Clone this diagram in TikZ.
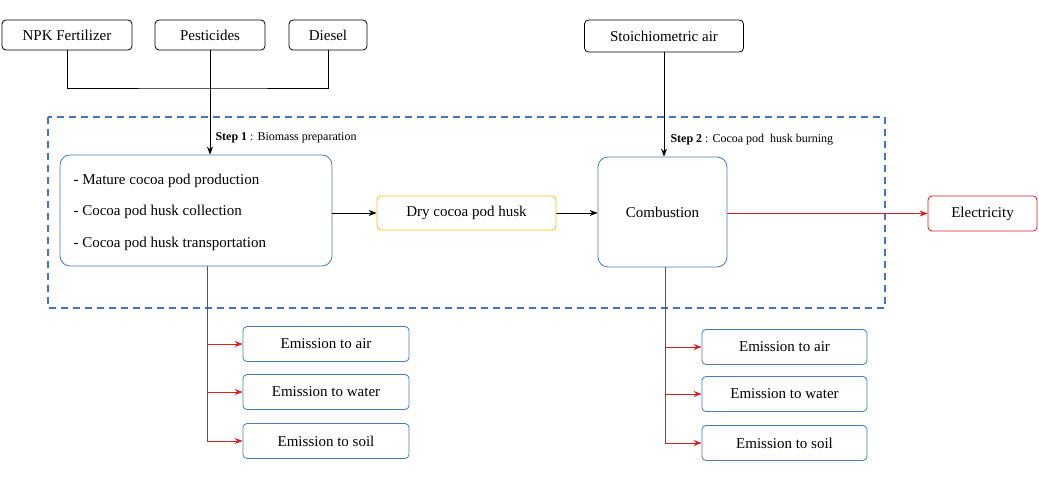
\documentclass[tikz,border=0pt]{standalone}
\usepackage{fontspec}
\setmainfont{Liberation Serif}
\usetikzlibrary{arrows.meta}
\definecolor{bbl}{RGB}{70,125,185}
\definecolor{dsh}{RGB}{68,114,196}
\definecolor{org}{RGB}{255,192,0}
\definecolor{rdc}{RGB}{225,30,30}
\begin{document}
\begin{tikzpicture}[x=1pt,y=-1pt,
 bx/.style={draw,rounded corners=4pt,line width=0.8pt,font=\fontsize{15}{17}\selectfont},
 blk/.style={bx,draw=black},
 blu/.style={bx,draw=bbl},
 ar/.style={-{Stealth[length=8pt,width=6pt]},line width=0.9pt},
 ra/.style={ar,color=rdc}]
\useasboundingbox (0,0) rectangle (1039,479);
\node[blk,minimum width=130,minimum height=30] (npk) at (67,35) {NPK Fertilizer};
\node[blk,minimum width=110,minimum height=30] (pes) at (210,35) {Pesticides};
\node[blk,minimum width=78,minimum height=30] (die) at (328,35) {Diesel};
\node[blk,minimum width=159,minimum height=32] (sto) at (664,36) {Stoichiometric air};
\draw[draw=dsh,line width=1.5pt,dash pattern=on 7pt off 5pt] (48,117) rectangle (885,308);
\node[anchor=west,font=\fontsize{12}{14}\selectfont] (s1) at (212,138) {\textbf{Step 1} : Biomass preparation};
\node[anchor=west,font=\fontsize{12}{14}\selectfont] (s2) at (667,140) {\textbf{Step 2} : Cocoa pod\ \ husk burning};
\node[blu,rounded corners=10pt,minimum width=272,minimum height=111] (bio) at (196,210.5) {};
\node[anchor=west,font=\fontsize{15}{17}\selectfont] at (70,181) {- Mature cocoa pod production};
\node[anchor=west,font=\fontsize{15}{17}\selectfont] at (70,212) {- Cocoa pod husk collection};
\node[anchor=west,font=\fontsize{15}{17}\selectfont] at (70,244) {- Cocoa pod husk transportation};
\node[bx,draw=org,minimum width=179,minimum height=34] (dry) at (466.5,213) {Dry cocoa pod husk};
\node[blu,rounded corners=10pt,minimum width=129,minimum height=110] (com) at (662.5,212) {Combustion};
\node[bx,draw=rdc,minimum width=109,minimum height=35] (ele) at (982.5,213.5) {Electricity};
\coordinate (j) at (208,88);
\draw[line width=0.8pt] (npk.south) |- (j) -| (die.south);
\draw[ar] (pes.south) -- (pes.south|-bio.north);
\draw[ar] (sto.south) -- (sto.south|-com.north);
\draw[ar] (bio.east|-dry) -- (dry.west);
\draw[ar] (dry.east) -- (com.west|-dry);
\draw[ra] (com.east|-ele) -- (ele.west);
\foreach \n/\y/\t in {a/344/air,w/392/water,s/441/soil}{
 \node[blu,minimum width=166,minimum height=35] (l\n) at (326,\y) {Emission to \t};
 \draw[ra] (207,266) |- (l\n.west);
}
\foreach \n/\y/\t in {a/347/air,w/394/water,s/443/soil}{
 \node[blu,minimum width=165,minimum height=35] (r\n) at (784.5,\y) {Emission to \t};
 \draw[ra] (665,267) |- (r\n.west);
}
\end{tikzpicture}
\end{document}
